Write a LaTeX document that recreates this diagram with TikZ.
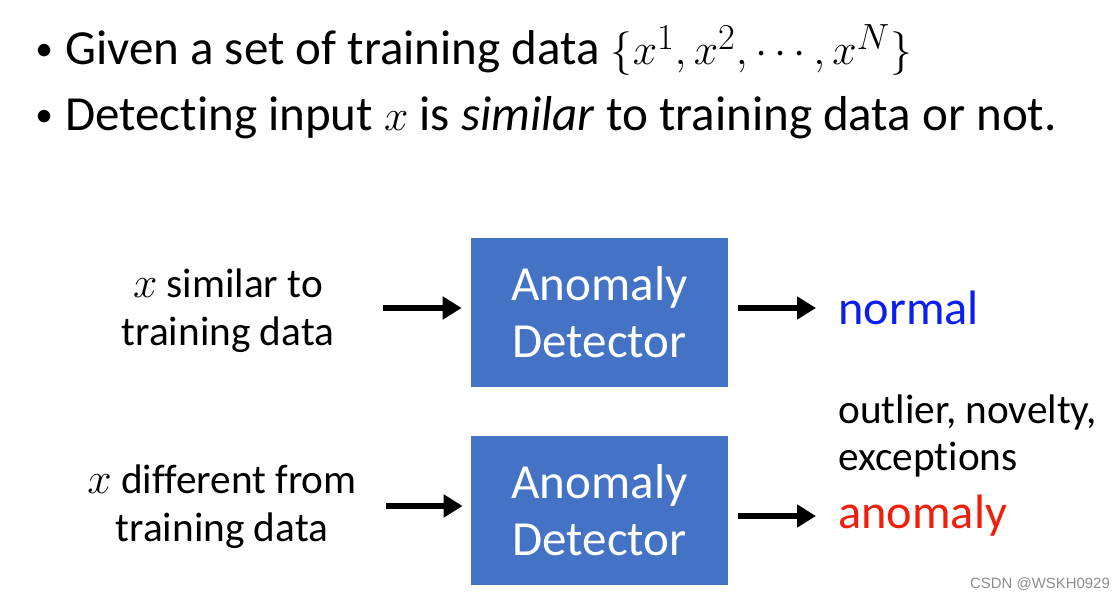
\documentclass[tikz,border=0pt]{standalone}
\usepackage{fontspec}
\usepackage{graphicx}
\setmainfont{Carlito}[Ligatures=CommonOff]
\newfontfamily\markfont{Liberation Sans}
\usetikzlibrary{arrows.meta,positioning}

\definecolor{boxblue}{HTML}{4472C4}
\definecolor{normalblue}{HTML}{0A1EF0}
\definecolor{anomred}{HTML}{F01E0A}

\newcommand{\smallbullet}{\makebox[0.6cm][l]{\raisebox{0.08em}{\scalebox{0.72}{\textbullet}}}}

\begin{document}
\begin{tikzpicture}[
    x=0.02cm, y=-0.02cm,
    detector/.style={fill=boxblue, draw=none, text=white, align=center,
        minimum width=5.14cm, minimum height=2.98cm, inner sep=0pt,
        font=\fontsize{27.9}{32.4}\selectfont},
    bullet/.style={anchor=west, inner sep=0pt, font=\fontsize{27.9}{32}\selectfont},
    sample/.style={align=center, inner sep=0pt, font=\fontsize{23.5}{27.3}\selectfont},
    result/.style={anchor=west, inner sep=0pt, font=\fontsize{27.5}{32}\selectfont},
    flow/.style={-{Triangle[length=0.38cm,width=0.44cm]}, line width=3.4pt},
]
\useasboundingbox (0,0) rectangle (1115,601);

%----------------------------------
% Bullet points
%----------------------------------

\node[bullet] (given) at (35,50)
    {\smallbullet Given a set of training data $\{x^1,x^2,\cdots,x^N\}$};
\node[bullet] (detect) at (35,118)
    {\smallbullet Detecting input $x$ is \textit{similar} to training data or not.};

%----------------------------------
% Upper row: similar input
%----------------------------------

\node[detector] (det1) at (599.5,312.5) {Anomaly\\Detector};
\node[sample] (in1) at (228,311) {$x$ similar to\\training data};
\node[result, text=normalblue] (normal) at (838,308) {normal};

\coordinate (s1) at (383,308);
\coordinate (e1) at (816,308);

\draw[flow, shorten >=0.18cm] (s1) -- (s1 -| det1.west);
\draw[flow, shorten <=0.2cm] (det1.east |- e1) -- (e1);

%----------------------------------
% Lower row: different input
%----------------------------------

\node[detector,below=0.96cm of det1] (det2) {Anomaly\\Detector};
\node[sample] (in2) at (222,507) {$x$ different from\\training data};
\node[result, sample, anchor=west, align=left] (kinds) at (838,436)
    {outlier, novelty,\\exceptions};
\node[result, text=anomred] (anomaly) at (838,516) {anomaly};

\coordinate (s2) at (386,506);
\coordinate (e2) at (816,516);

\draw[flow, shorten >=0.16cm] (s2) -- (s2 -| det2.west);
\draw[flow, shorten <=0.2cm] (det2.east |- e2) -- (e2);

%----------------------------------
% Watermark
%----------------------------------

\node[text=black!45, font=\markfont\fontsize{8.5}{10}\selectfont, inner sep=0pt]
    (mark) at (1040,584) {CSDN @WSKH0929};

\end{tikzpicture}
\end{document}
